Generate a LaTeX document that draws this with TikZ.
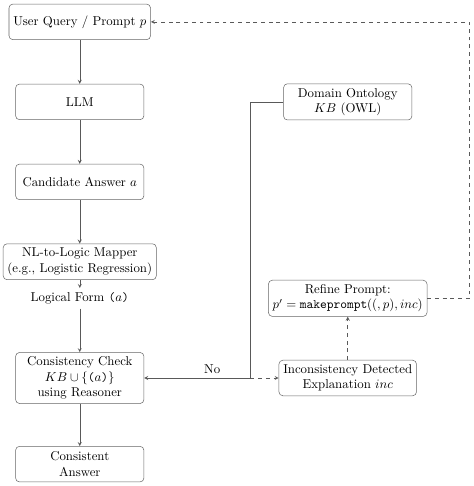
\documentclass[tikz,border=0pt]{standalone}
\usetikzlibrary{arrows,positioning,matrix}
\begin{document}
\begin{tikzpicture}[
	box/.style={draw=black!60, rounded corners=3pt, align=center,
		minimum width=100pt, minimum height=27.7pt},
	link/.style={->, draw=black!65},
	back/.style={link, dashed},
	>=stealth]
		\matrix (flow) [column sep=87pt, nodes={anchor=center}]
		{
			\node[box] (query) {User Query / Prompt $p$}; & \\[34pt]
			\node[box] (llm) {LLM}; & \node[box] (onto) {Domain Ontology\\$KB$ (OWL)}; \\[34pt]
			\node[box] (cand) {Candidate Answer $a$}; & \\[34pt]
			\node[box] (mapper) {NL-to-Logic Mapper\\(e.g., Logistic Regression)}; & \\[0pt]
			\node (lform) {Logical Form \texttt{(}$a$\texttt{)}}; & \node[box] (refine) {Refine Prompt:\\$p' = \texttt{makeprompt}((,p), inc)$}; \\[27.7pt]
			\node[box] (check) {Consistency Check\\$KB \cup \{$\texttt{(}$a$\texttt{)}$\}$\\using Reasoner}; & \node[box] (incons) {Inconsistency Detected\\Explanation $inc$}; \\[33pt]
			\node[box] (final) {Consistent\\Answer}; & \\
		};
		\draw[link] (query)--(llm);
		\draw[link] (llm)--(cand);
		\draw[link] (cand)--(mapper);
		\draw[link] (mapper)--(lform);
		\draw[link] (lform)--(check);
		\draw[link] (check)--(final);
		%%
		\coordinate (join) at ([xshift=-22pt]incons.west);
		\draw[link] (onto.west) -| (join) -- node[above, pos=0.36, text=black] {No} (check.east);
		\draw[back] (join)--(incons);
		\draw[back] (incons)--(refine);
		\draw[back] (refine.east) -- ++(33pt,0) coordinate (turn) |- (query.east);
		%%
		\pgfresetboundingbox
		\path[use as bounding box] ([xshift=-2.3pt,yshift=3pt]mapper.west |- query.north)
			rectangle ([xshift=3pt,yshift=-3pt]turn |- final.south);
	\end{tikzpicture}
\end{document}
